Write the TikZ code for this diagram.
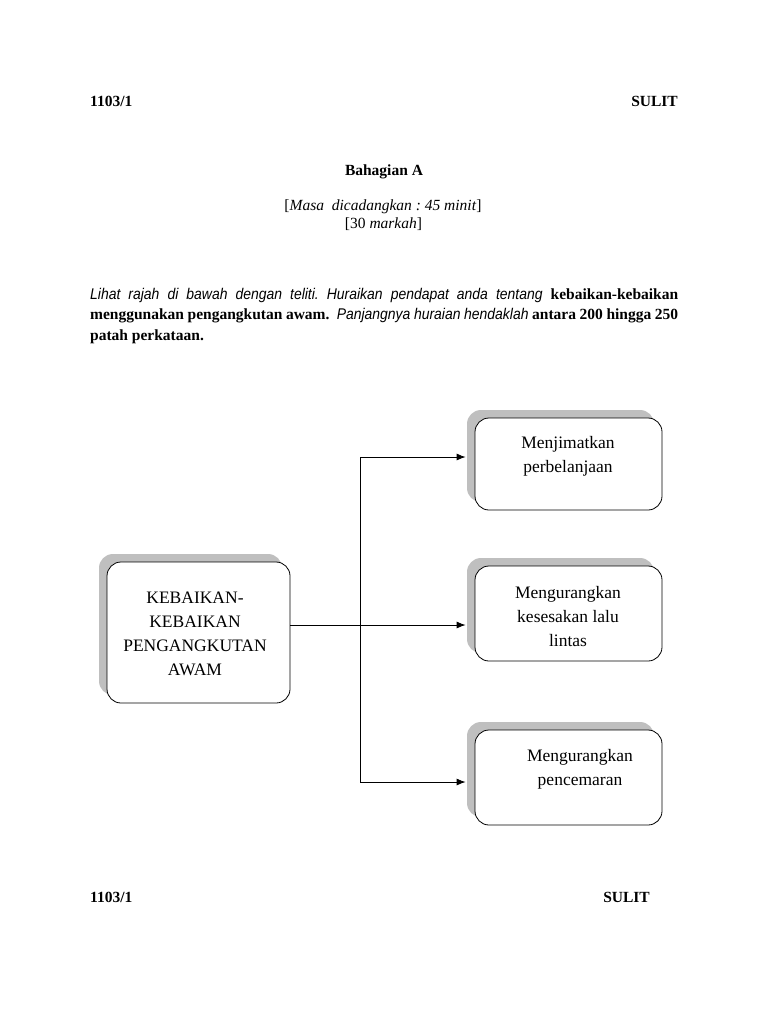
\documentclass[tikz,border=0pt]{standalone}
\usepackage{fontspec}
\setmainfont{Liberation Serif}
\newfontfamily\itsans[FakeStretch=0.9]{Liberation Sans}
\usetikzlibrary{arrows.meta,shadows}
\frenchspacing
\begin{document}
\begin{tikzpicture}[x=1pt,y=-1pt,
  hdr/.style={font=\fontsize{15.5}{18}\selectfont\bfseries, inner sep=0pt},
  plain/.style={font=\fontsize{15.5}{18}\selectfont, inner sep=0pt},
  card/.style={draw=black, fill=white, rounded corners=14pt, line width=0.8pt,
     minimum width=187pt, minimum height=94pt, inner sep=0pt,
     general shadow={fill=black!25, shadow xshift=-8pt, shadow yshift=8pt}},
  cardtext/.style={font=\fontsize{17.5}{24}\selectfont, align=center, inner sep=0pt},
  link/.style={line width=0.8pt},
  arr/.style={line width=0.8pt, -{Latex[length=9pt,width=7pt]}, shorten >=9pt}]
\useasboundingbox (0,0) rectangle (768,1024);

% header
\node[hdr, anchor=base west] (h1) at (90,107) {1103/1};
\node[hdr, anchor=base east] (h2) at (678,107) {SULIT};
\node[hdr, anchor=base] (title) at (384,176) {Bahagian A};
\node[plain, anchor=base] (masa) at (383,211) {[\textit{Masa\ \ dicadangkan : 45 minit}]};
\node[plain, anchor=base] (markah) at (383.5,229) {[30 \textit{markah}]};

% instructions
\node[anchor=north west, inner sep=0pt, text width=588pt, align=justify,
      font=\fontsize{15.5}{20.5}\selectfont] (para) at (90,288)
 {{\itsans\itshape Lihat rajah di bawah dengan teliti. Huraikan pendapat anda tentang} \textbf{kebaikan-kebaikan}\linebreak
  \textbf{menggunakan pengangkutan awam.}\ \ {\itsans\itshape Panjangnya huraian hendaklah} \textbf{antara 200 hingga 250}\linebreak
  \textbf{patah perkataan.}};

% boxes
\node[card, minimum width=183pt, minimum height=141pt] (L) at (198.5,632.5) {};
\node[card, minimum height=92pt] (b1) at (568.5,464) {};
\node[card, minimum height=95pt] (b2) at (568.5,613.5) {};
\node[card, minimum height=95pt] (b3) at (568.5,777.5) {};

\node[cardtext] (tL) at (195,634) {KEBAIKAN-\\KEBAIKAN\\PENGANGKUTAN\\AWAM};
\node[cardtext] (t1) at (568,456.5) {Menjimatkan\\perbelanjaan};
\node[cardtext] (t2) at (568,617) {Mengurangkan\\kesesakan lalu\\lintas};
\node[cardtext] (t3) at (580,769) {Mengurangkan\\pencemaran};

% connectors
\coordinate (j) at (360,625);
\coordinate (jt) at (360,457);
\coordinate (jb) at (360,782);
\draw[link] (L.east |- j) -- (j);
\draw[link] (jt) -- (jb);
\draw[arr] (j) -- (b2.west |- j);
\draw[arr] (jt) -- (b1.west |- jt);
\draw[arr] (jb) -- (b3.west |- jb);

% footer
\node[hdr, anchor=base west] (f1) at (90,902) {1103/1};
\node[hdr, anchor=base east] (f2) at (650,902) {SULIT};
\end{tikzpicture}
\end{document}
